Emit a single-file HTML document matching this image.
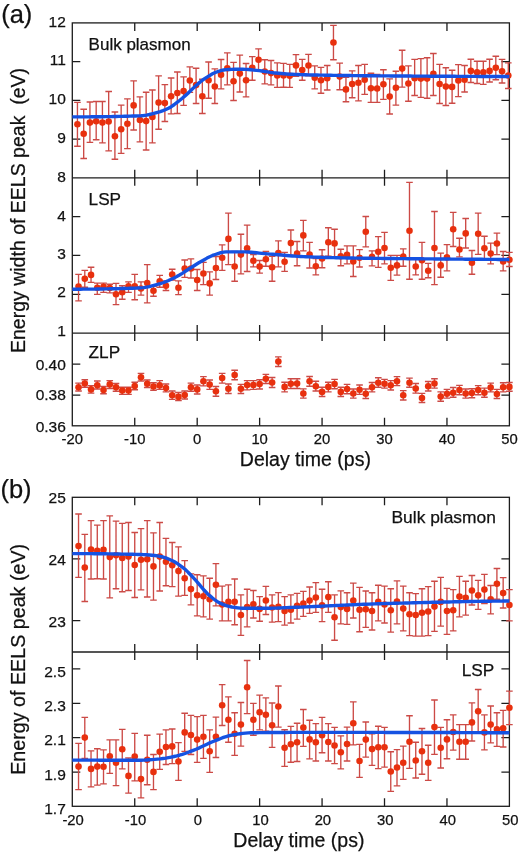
<!DOCTYPE html>
<html><head><meta charset="utf-8"><title>Figure</title>
<style>
html,body{margin:0;padding:0;background:#fff;}
body{width:520px;height:854px;overflow:hidden;}
svg{display:block;}
text{font-family:'Liberation Sans', Arial, Helvetica, sans-serif;fill:#111;stroke:#111;stroke-width:0.25px;}
</style></head><body>
<svg width="520" height="854" viewBox="0 0 520 854">
<rect width="520" height="854" fill="#fff"/>
<rect x="72.3" y="22.9" width="437.10" height="402.90" fill="none" stroke="#1c1c1c" stroke-width="1.3"/>
<line x1="72.3" y1="177.8" x2="509.4" y2="177.8" stroke="#1c1c1c" stroke-width="1.3"/>
<line x1="72.3" y1="333.1" x2="509.4" y2="333.1" stroke="#1c1c1c" stroke-width="1.3"/>
<path d="M134.74 22.9v8M134.74 425.8v-8M134.74 169.8v16M134.74 325.1v16M197.19 22.9v8M197.19 425.8v-8M197.19 169.8v16M197.19 325.1v16M259.63 22.9v8M259.63 425.8v-8M259.63 169.8v16M259.63 325.1v16M322.07 22.9v8M322.07 425.8v-8M322.07 169.8v16M322.07 325.1v16M384.51 22.9v8M384.51 425.8v-8M384.51 169.8v16M384.51 325.1v16M446.96 22.9v8M446.96 425.8v-8M446.96 169.8v16M446.96 325.1v16M72.3 61.6h8M509.4 61.6h-8M72.3 100.4h8M509.4 100.4h-8M72.3 139.1h8M509.4 139.1h-8M72.3 216.6h8M509.4 216.6h-8M72.3 255.4h8M509.4 255.4h-8M72.3 294.3h8M509.4 294.3h-8M72.3 364.2h8M509.4 364.2h-8M72.3 395.1h8M509.4 395.1h-8" stroke="#1c1c1c" stroke-width="1.3" fill="none"/>
<rect x="72.3" y="497.3" width="437.10" height="309.00" fill="none" stroke="#1c1c1c" stroke-width="1.3"/>
<line x1="72.3" y1="652.0" x2="509.4" y2="652.0" stroke="#1c1c1c" stroke-width="1.3"/>
<path d="M134.74 497.3v8M134.74 806.3v-8M134.74 644.0v16M197.19 497.3v8M197.19 806.3v-8M197.19 644.0v16M259.63 497.3v8M259.63 806.3v-8M259.63 644.0v16M322.07 497.3v8M322.07 806.3v-8M322.07 644.0v16M384.51 497.3v8M384.51 806.3v-8M384.51 644.0v16M446.96 497.3v8M446.96 806.3v-8M446.96 644.0v16M72.3 558.9h8M509.4 558.9h-8M72.3 620.7h8M509.4 620.7h-8M72.3 668.9h8M509.4 668.9h-8M72.3 703.4h8M509.4 703.4h-8M72.3 737.7h8M509.4 737.7h-8M72.3 772.2h8M509.4 772.2h-8" stroke="#1c1c1c" stroke-width="1.3" fill="none"/>
<text x="65.8" y="27.05" text-anchor="end" font-size="15.5">12</text>
<text x="65.8" y="64.95" text-anchor="end" font-size="15.5">11</text>
<text x="65.8" y="104.15" text-anchor="end" font-size="15.5">10</text>
<text x="65.8" y="142.95" text-anchor="end" font-size="15.5">9</text>
<text x="65.8" y="181.70" text-anchor="end" font-size="15.5">8</text>
<text x="65.8" y="221.15" text-anchor="end" font-size="15.5">4</text>
<text x="65.8" y="258.55" text-anchor="end" font-size="15.5">3</text>
<text x="65.8" y="297.25" text-anchor="end" font-size="15.5">2</text>
<text x="65.8" y="335.85" text-anchor="end" font-size="15.5">1</text>
<text x="65.8" y="369.75" text-anchor="end" font-size="15.5">0.40</text>
<text x="65.8" y="399.55" text-anchor="end" font-size="15.5">0.38</text>
<text x="65.8" y="432.35" text-anchor="end" font-size="15.5">0.36</text>
<text x="65.8" y="502.55" text-anchor="end" font-size="15.5">25</text>
<text x="65.8" y="564.85" text-anchor="end" font-size="15.5">24</text>
<text x="65.8" y="626.75" text-anchor="end" font-size="15.5">23</text>
<text x="65.8" y="676.75" text-anchor="end" font-size="15.5">2.5</text>
<text x="65.8" y="710.55" text-anchor="end" font-size="15.5">2.3</text>
<text x="65.8" y="744.95" text-anchor="end" font-size="15.5">2.1</text>
<text x="65.8" y="779.95" text-anchor="end" font-size="15.5">1.9</text>
<text x="65.8" y="813.95" text-anchor="end" font-size="15.5">1.7</text>
<text x="72.30" y="443.90" text-anchor="middle" font-size="14.8">-20</text>
<text x="134.74" y="443.90" text-anchor="middle" font-size="14.8">-10</text>
<text x="197.19" y="443.90" text-anchor="middle" font-size="14.8">0</text>
<text x="259.63" y="443.90" text-anchor="middle" font-size="14.8">10</text>
<text x="322.07" y="443.90" text-anchor="middle" font-size="14.8">20</text>
<text x="384.51" y="443.90" text-anchor="middle" font-size="14.8">30</text>
<text x="446.96" y="443.90" text-anchor="middle" font-size="14.8">40</text>
<text x="509.40" y="443.90" text-anchor="middle" font-size="14.8">50</text>
<text x="73.10" y="824.50" text-anchor="middle" font-size="14.8">-20</text>
<text x="135.54" y="824.50" text-anchor="middle" font-size="14.8">-10</text>
<text x="197.99" y="824.50" text-anchor="middle" font-size="14.8">0</text>
<text x="260.43" y="824.50" text-anchor="middle" font-size="14.8">10</text>
<text x="322.87" y="824.50" text-anchor="middle" font-size="14.8">20</text>
<text x="385.31" y="824.50" text-anchor="middle" font-size="14.8">30</text>
<text x="447.76" y="824.50" text-anchor="middle" font-size="14.8">40</text>
<text x="510.20" y="824.50" text-anchor="middle" font-size="14.8">50</text>
<text x="239.8" y="465.6" font-size="19.5">Delay time (ps)</text>
<text x="233.3" y="846.6" font-size="19.5">Delay time (ps)</text>
<text transform="translate(24.8 353) rotate(-90)" font-size="19.5" xml:space="preserve">Energy width of EELS peak  (eV)</text>
<text transform="translate(24.8 774.8) rotate(-90)" font-size="19.7">Energy of EELS peak (eV)</text>
<text x="1.2" y="22.5" font-size="25.5">(a)</text>
<text x="0.4" y="497.5" font-size="25.5">(b)</text>
<text x="88.6" y="49.5" font-size="17">Bulk plasmon</text>
<text x="88.6" y="205" font-size="17.2">LSP</text>
<text x="88.6" y="357.9" font-size="17.2">ZLP</text>
<text x="391.5" y="523" font-size="17.4">Bulk plasmon</text>
<text x="461.8" y="676.2" font-size="17.2">LSP</text>
<path d="M77.44 102.3V146.2M74.14 102.3h6.6M74.14 146.2h6.6M83.69 109.2V158.5M80.39 109.2h6.6M80.39 158.5h6.6M89.93 102.0V142.3M86.63 102.0h6.6M86.63 142.3h6.6M96.18 101.5V139.7M92.88 101.5h6.6M92.88 139.7h6.6M102.42 101.5V142.8M99.12 101.5h6.6M99.12 142.8h6.6M108.67 91.5V150.8M105.37 91.5h6.6M105.37 150.8h6.6M114.91 112.0V159.2M111.61 112.0h6.6M111.61 159.2h6.6M121.15 105.1V153.4M117.85 105.1h6.6M117.85 153.4h6.6M127.40 98.8V148.6M124.10 98.8h6.6M124.10 148.6h6.6M133.64 80.8V130.0M130.34 80.8h6.6M130.34 130.0h6.6M139.89 96.9V141.8M136.59 96.9h6.6M136.59 141.8h6.6M146.13 92.2V150.0M142.83 92.2h6.6M142.83 150.0h6.6M152.38 90.0V142.8M149.08 90.0h6.6M149.08 142.8h6.6M158.62 75.8V129.2M155.32 75.8h6.6M155.32 129.2h6.6M164.86 84.6V121.5M161.56 84.6h6.6M161.56 121.5h6.6M171.11 78.0V113.8M167.81 78.0h6.6M167.81 113.8h6.6M177.35 72.0V113.5M174.05 72.0h6.6M174.05 113.5h6.6M183.60 76.9V105.4M180.30 76.9h6.6M180.30 105.4h6.6M189.84 66.9V92.3M186.54 66.9h6.6M186.54 92.3h6.6M196.09 68.2V103.5M192.79 68.2h6.6M192.79 103.5h6.6M202.33 79.2V113.5M199.03 79.2h6.6M199.03 113.5h6.6M208.57 62.0V98.2M205.27 62.0h6.6M205.27 98.2h6.6M214.82 68.9V103.5M211.52 68.9h6.6M211.52 103.5h6.6M221.06 59.5V88.9M217.76 59.5h6.6M217.76 88.9h6.6M227.31 52.8V84.8M224.01 52.8h6.6M224.01 84.8h6.6M233.55 62.3V100.5M230.25 62.3h6.6M230.25 100.5h6.6M239.80 55.1V92.0M236.50 55.1h6.6M236.50 92.0h6.6M246.04 63.5V96.9M242.74 63.5h6.6M242.74 96.9h6.6M252.28 56.6V80.2M248.98 56.6h6.6M248.98 80.2h6.6M258.53 48.9V70.9M255.23 48.9h6.6M255.23 70.9h6.6M264.77 59.7V83.8M261.47 59.7h6.6M261.47 83.8h6.6M271.02 60.5V84.8M267.72 60.5h6.6M267.72 84.8h6.6M277.26 62.8V87.4M273.96 62.8h6.6M273.96 87.4h6.6M283.51 63.3V87.2M280.21 63.3h6.6M280.21 87.2h6.6M289.75 64.3V87.4M286.45 64.3h6.6M286.45 87.4h6.6M295.99 54.6V76.2M292.69 54.6h6.6M292.69 76.2h6.6M302.24 59.4V80.2M298.94 59.4h6.6M298.94 80.2h6.6M308.48 54.3V75.8M305.18 54.3h6.6M305.18 75.8h6.6M314.73 65.8V88.9M311.43 65.8h6.6M311.43 88.9h6.6M320.97 67.4V93.2M317.67 67.4h6.6M317.67 93.2h6.6M327.22 65.5V90.0M323.92 65.5h6.6M323.92 90.0h6.6M333.46 25.4V59.7M330.16 25.4h6.6M330.16 59.7h6.6M339.70 63.1V89.7M336.40 63.1h6.6M336.40 89.7h6.6M345.95 77.4V101.7M342.65 77.4h6.6M342.65 101.7h6.6M352.19 70.9V97.7M348.89 70.9h6.6M348.89 97.7h6.6M358.44 65.5V100.8M355.14 65.5h6.6M355.14 100.8h6.6M364.68 64.3V94.3M361.38 64.3h6.6M361.38 94.3h6.6M370.93 73.2V102.3M367.63 73.2h6.6M367.63 102.3h6.6M377.17 74.3V102.3M373.87 74.3h6.6M373.87 102.3h6.6M383.41 69.7V99.4M380.11 69.7h6.6M380.11 99.4h6.6M389.66 78.9V114.0M386.36 78.9h6.6M386.36 114.0h6.6M395.90 71.2V105.1M392.60 71.2h6.6M392.60 105.1h6.6M402.15 50.2V87.1M398.85 50.2h6.6M398.85 87.1h6.6M408.39 65.8V101.2M405.09 65.8h6.6M405.09 101.2h6.6M414.64 59.4V95.5M411.34 59.4h6.6M411.34 95.5h6.6M420.88 58.6V97.4M417.58 58.6h6.6M417.58 97.4h6.6M427.12 57.7V98.2M423.82 57.7h6.6M423.82 98.2h6.6M433.37 53.5V95.5M430.07 53.5h6.6M430.07 95.5h6.6M439.61 64.3V103.5M436.31 64.3h6.6M436.31 103.5h6.6M445.86 67.7V105.5M442.56 67.7h6.6M442.56 105.5h6.6M452.10 70.2V103.2M448.80 70.2h6.6M448.80 103.2h6.6M458.35 64.6V96.6M455.05 64.6h6.6M455.05 96.6h6.6M464.59 65.5V92.0M461.29 65.5h6.6M461.29 92.0h6.6M470.83 59.2V82.5M467.53 59.2h6.6M467.53 82.5h6.6M477.08 61.2V83.5M473.78 61.2h6.6M473.78 83.5h6.6M483.32 61.2V84.3M480.02 61.2h6.6M480.02 84.3h6.6M489.57 59.2V82.0M486.27 59.2h6.6M486.27 82.0h6.6M495.81 56.2V79.7M492.51 56.2h6.6M492.51 79.7h6.6M502.06 59.3V83.0M498.76 59.3h6.6M498.76 83.0h6.6M508.30 62.8V88.5M505.00 62.8h6.6M505.00 88.5h6.6" stroke="#cc4a46" stroke-width="1.35" fill="none"/>
<g fill="#e8300e"><circle cx="77.44" cy="124.3" r="3.3"/><circle cx="83.69" cy="133.8" r="3.3"/><circle cx="89.93" cy="122.6" r="3.3"/><circle cx="96.18" cy="121.2" r="3.3"/><circle cx="102.42" cy="122.6" r="3.3"/><circle cx="108.67" cy="121.5" r="3.3"/><circle cx="114.91" cy="136.2" r="3.3"/><circle cx="121.15" cy="129.2" r="3.3"/><circle cx="127.40" cy="123.8" r="3.3"/><circle cx="133.64" cy="105.4" r="3.3"/><circle cx="139.89" cy="120.0" r="3.3"/><circle cx="146.13" cy="121.1" r="3.3"/><circle cx="152.38" cy="116.9" r="3.3"/><circle cx="158.62" cy="102.6" r="3.3"/><circle cx="164.86" cy="103.1" r="3.3"/><circle cx="171.11" cy="96.2" r="3.3"/><circle cx="177.35" cy="93.1" r="3.3"/><circle cx="183.60" cy="91.1" r="3.3"/><circle cx="189.84" cy="80.5" r="3.3"/><circle cx="196.09" cy="85.1" r="3.3"/><circle cx="202.33" cy="96.2" r="3.3"/><circle cx="208.57" cy="80.3" r="3.3"/><circle cx="214.82" cy="86.5" r="3.3"/><circle cx="221.06" cy="74.8" r="3.3"/><circle cx="227.31" cy="68.2" r="3.3"/><circle cx="233.55" cy="81.3" r="3.3"/><circle cx="239.80" cy="73.6" r="3.3"/><circle cx="246.04" cy="80.2" r="3.3"/><circle cx="252.28" cy="67.8" r="3.3"/><circle cx="258.53" cy="59.7" r="3.3"/><circle cx="264.77" cy="71.5" r="3.3"/><circle cx="271.02" cy="73.1" r="3.3"/><circle cx="277.26" cy="75.5" r="3.3"/><circle cx="283.51" cy="75.5" r="3.3"/><circle cx="289.75" cy="75.8" r="3.3"/><circle cx="295.99" cy="65.4" r="3.3"/><circle cx="302.24" cy="70.0" r="3.3"/><circle cx="308.48" cy="65.5" r="3.3"/><circle cx="314.73" cy="77.7" r="3.3"/><circle cx="320.97" cy="80.2" r="3.3"/><circle cx="327.22" cy="78.2" r="3.3"/><circle cx="333.46" cy="42.5" r="3.3"/><circle cx="339.70" cy="76.6" r="3.3"/><circle cx="345.95" cy="89.4" r="3.3"/><circle cx="352.19" cy="84.0" r="3.3"/><circle cx="358.44" cy="82.8" r="3.3"/><circle cx="364.68" cy="79.7" r="3.3"/><circle cx="370.93" cy="88.2" r="3.3"/><circle cx="377.17" cy="88.5" r="3.3"/><circle cx="383.41" cy="84.3" r="3.3"/><circle cx="389.66" cy="96.6" r="3.3"/><circle cx="395.90" cy="87.8" r="3.3"/><circle cx="402.15" cy="68.6" r="3.3"/><circle cx="408.39" cy="83.5" r="3.3"/><circle cx="414.64" cy="78.2" r="3.3"/><circle cx="420.88" cy="78.6" r="3.3"/><circle cx="427.12" cy="78.6" r="3.3"/><circle cx="433.37" cy="73.8" r="3.3"/><circle cx="439.61" cy="84.0" r="3.3"/><circle cx="445.86" cy="86.6" r="3.3"/><circle cx="452.10" cy="86.9" r="3.3"/><circle cx="458.35" cy="80.5" r="3.3"/><circle cx="464.59" cy="79.7" r="3.3"/><circle cx="470.83" cy="70.9" r="3.3"/><circle cx="477.08" cy="72.3" r="3.3"/><circle cx="483.32" cy="72.3" r="3.3"/><circle cx="489.57" cy="70.9" r="3.3"/><circle cx="495.81" cy="67.8" r="3.3"/><circle cx="502.06" cy="71.2" r="3.3"/><circle cx="508.30" cy="75.5" r="3.3"/></g>
<path d="M72.30 116.90 L75.05 116.90 L77.80 116.89 L80.55 116.89 L83.30 116.88 L86.05 116.86 L88.79 116.85 L91.54 116.82 L94.29 116.80 L97.04 116.77 L99.79 116.74 L102.54 116.71 L105.29 116.67 L108.04 116.62 L110.79 116.58 L113.54 116.53 L116.28 116.47 L119.03 116.41 L121.78 116.35 L124.53 116.28 L127.28 116.20 L130.03 116.12 L132.78 116.04 L135.53 115.95 L138.28 115.86 L141.03 115.75 L143.78 115.49 L146.52 115.06 L149.27 114.51 L152.02 113.85 L154.77 113.13 L157.52 112.37 L160.27 111.59 L163.02 110.65 L165.77 109.53 L168.52 108.24 L171.27 106.67 L174.02 104.75 L176.76 102.65 L179.51 100.51 L182.26 98.24 L185.01 95.86 L187.76 93.41 L190.51 90.83 L193.26 88.11 L196.01 85.48 L198.76 83.13 L201.51 80.94 L204.25 78.91 L207.00 77.08 L209.75 75.41 L212.50 73.84 L215.25 72.52 L218.00 71.54 L220.75 70.68 L223.50 70.00 L226.25 69.62 L229.00 69.47 L231.75 69.36 L234.49 69.27 L237.24 69.22 L239.99 69.20 L242.74 69.25 L245.49 69.38 L248.24 69.57 L250.99 69.81 L253.74 70.07 L256.49 70.35 L259.24 70.63 L261.98 71.01 L264.73 71.46 L267.48 71.93 L270.23 72.37 L272.98 72.74 L275.73 73.03 L278.48 73.31 L281.23 73.56 L283.98 73.80 L286.73 74.00 L289.48 74.18 L292.22 74.31 L294.97 74.42 L297.72 74.52 L300.47 74.62 L303.22 74.71 L305.97 74.79 L308.72 74.87 L311.47 74.94 L314.22 75.01 L316.97 75.07 L319.72 75.12 L322.46 75.17 L325.21 75.22 L327.96 75.27 L330.71 75.31 L333.46 75.35 L336.21 75.39 L338.96 75.43 L341.71 75.46 L344.46 75.50 L347.21 75.53 L349.95 75.57 L352.70 75.60 L355.45 75.63 L358.20 75.66 L360.95 75.69 L363.70 75.71 L366.45 75.74 L369.20 75.77 L371.95 75.79 L374.70 75.81 L377.45 75.84 L380.19 75.86 L382.94 75.88 L385.69 75.90 L388.44 75.92 L391.19 75.94 L393.94 75.96 L396.69 75.98 L399.44 76.00 L402.19 76.01 L404.94 76.03 L407.68 76.05 L410.43 76.07 L413.18 76.08 L415.93 76.10 L418.68 76.12 L421.43 76.14 L424.18 76.15 L426.93 76.17 L429.68 76.18 L432.43 76.20 L435.18 76.22 L437.92 76.23 L440.67 76.25 L443.42 76.26 L446.17 76.28 L448.92 76.29 L451.67 76.31 L454.42 76.32 L457.17 76.33 L459.92 76.35 L462.67 76.36 L465.42 76.37 L468.16 76.38 L470.91 76.39 L473.66 76.40 L476.41 76.42 L479.16 76.43 L481.91 76.43 L484.66 76.44 L487.41 76.45 L490.16 76.46 L492.91 76.47 L495.65 76.47 L498.40 76.48 L501.15 76.49 L503.90 76.49 L506.65 76.50 L509.40 76.50" stroke="#1552e2" stroke-width="3.4" fill="none" stroke-linejoin="round"/>
<path d="M78.54 274.3V300.8M75.24 274.3h6.6M75.24 300.8h6.6M84.79 270.3V287.2M81.49 270.3h6.6M81.49 287.2h6.6M91.03 267.2V282.3M87.73 267.2h6.6M87.73 282.3h6.6M97.28 283.1V294.3M93.98 283.1h6.6M93.98 294.3h6.6M103.52 283.1V292.3M100.22 283.1h6.6M100.22 292.3h6.6M109.77 284.2V292.8M106.47 284.2h6.6M106.47 292.8h6.6M116.01 283.4V304.6M112.71 283.4h6.6M112.71 304.6h6.6M122.25 285.7V299.2M118.95 285.7h6.6M118.95 299.2h6.6M128.50 281.8V292.3M125.20 281.8h6.6M125.20 292.3h6.6M134.74 274.3V299.7M131.44 274.3h6.6M131.44 299.7h6.6M140.99 281.8V295.1M137.69 281.8h6.6M137.69 295.1h6.6M147.23 264.6V302.8M143.93 264.6h6.6M143.93 302.8h6.6M153.48 286.2V296.2M150.18 286.2h6.6M150.18 296.2h6.6M159.72 275.4V287.2M156.42 275.4h6.6M156.42 287.2h6.6M165.96 280.8V290.5M162.66 280.8h6.6M162.66 290.5h6.6M172.21 269.2V280.0M168.91 269.2h6.6M168.91 280.0h6.6M178.45 280.8V294.6M175.15 280.8h6.6M175.15 294.6h6.6M184.70 260.0V277.4M181.40 260.0h6.6M181.40 277.4h6.6M190.94 258.8V278.0M187.64 258.8h6.6M187.64 278.0h6.6M197.19 269.5V290.5M193.89 269.5h6.6M193.89 290.5h6.6M203.43 262.3V284.6M200.13 262.3h6.6M200.13 284.6h6.6M209.67 271.8V295.1M206.37 271.8h6.6M206.37 295.1h6.6M215.92 256.5V279.5M212.62 256.5h6.6M212.62 279.5h6.6M222.16 244.8V270.3M218.86 244.8h6.6M218.86 270.3h6.6M228.41 213.1V264.6M225.11 213.1h6.6M225.11 264.6h6.6M234.65 251.5V281.2M231.35 251.5h6.6M231.35 281.2h6.6M240.90 234.2V273.8M237.60 234.2h6.6M237.60 273.8h6.6M247.14 225.1V271.5M243.84 225.1h6.6M243.84 271.5h6.6M253.38 254.6V266.9M250.08 254.6h6.6M250.08 266.9h6.6M259.63 260.5V273.1M256.33 260.5h6.6M256.33 273.1h6.6M265.87 251.5V266.2M262.57 251.5h6.6M262.57 266.2h6.6M272.12 256.2V281.2M268.82 256.2h6.6M268.82 281.2h6.6M278.36 240.8V266.9M275.06 240.8h6.6M275.06 266.9h6.6M284.61 252.4V271.4M281.31 252.4h6.6M281.31 271.4h6.6M290.85 230.0V255.1M287.55 230.0h6.6M287.55 255.1h6.6M297.09 241.5V265.7M293.79 241.5h6.6M293.79 265.7h6.6M303.34 220.3V250.8M300.04 220.3h6.6M300.04 250.8h6.6M309.58 242.3V268.0M306.28 242.3h6.6M306.28 268.0h6.6M315.83 258.5V274.9M312.53 258.5h6.6M312.53 274.9h6.6M322.07 249.7V267.7M318.77 249.7h6.6M318.77 267.7h6.6M328.32 227.7V256.2M325.02 227.7h6.6M325.02 256.2h6.6M334.56 229.2V256.9M331.26 229.2h6.6M331.26 256.9h6.6M340.80 249.2V265.7M337.50 249.2h6.6M337.50 265.7h6.6M347.05 245.8V263.8M343.75 245.8h6.6M343.75 263.8h6.6M353.29 245.8V276.5M349.99 245.8h6.6M349.99 276.5h6.6M359.54 249.6V267.0M356.24 249.6h6.6M356.24 267.0h6.6M365.78 216.5V246.9M362.48 216.5h6.6M362.48 246.9h6.6M372.03 250.8V265.8M368.73 250.8h6.6M368.73 265.8h6.6M378.27 236.6V267.4M374.97 236.6h6.6M374.97 267.4h6.6M384.51 232.3V263.8M381.21 232.3h6.6M381.21 263.8h6.6M390.76 255.4V280.3M387.46 255.4h6.6M387.46 280.3h6.6M397.00 255.4V275.1M393.70 255.4h6.6M393.70 275.1h6.6M403.25 248.8V266.2M399.95 248.8h6.6M399.95 266.2h6.6M409.49 182.3V279.2M406.19 182.3h6.6M406.19 279.2h6.6M415.74 258.2V274.9M412.44 258.2h6.6M412.44 274.9h6.6M421.98 242.3V279.2M418.68 242.3h6.6M418.68 279.2h6.6M428.22 263.4V277.7M424.92 263.4h6.6M424.92 277.7h6.6M434.47 211.5V284.6M431.17 211.5h6.6M431.17 284.6h6.6M440.71 253.1V277.2M437.41 253.1h6.6M437.41 277.2h6.6M446.96 244.6V270.8M443.66 244.6h6.6M443.66 270.8h6.6M453.20 212.3V246.5M449.90 212.3h6.6M449.90 246.5h6.6M459.45 238.2V256.9M456.15 238.2h6.6M456.15 256.9h6.6M465.69 218.5V248.0M462.39 218.5h6.6M462.39 248.0h6.6M471.93 250.5V274.2M468.63 250.5h6.6M468.63 274.2h6.6M478.18 213.1V254.3M474.88 213.1h6.6M474.88 254.3h6.6M484.42 236.2V259.2M481.12 236.2h6.6M481.12 259.2h6.6M490.67 243.1V263.8M487.37 243.1h6.6M487.37 263.8h6.6M496.91 233.1V254.6M493.61 233.1h6.6M493.61 254.6h6.6M503.16 251.5V270.8M499.86 251.5h6.6M499.86 270.8h6.6M509.40 252.3V266.5M506.10 252.3h6.6M506.10 266.5h6.6" stroke="#cc4a46" stroke-width="1.35" fill="none"/>
<g fill="#e8300e"><circle cx="78.54" cy="286.6" r="3.3"/><circle cx="84.79" cy="278.8" r="3.3"/><circle cx="91.03" cy="274.9" r="3.3"/><circle cx="97.28" cy="287.7" r="3.3"/><circle cx="103.52" cy="286.9" r="3.3"/><circle cx="109.77" cy="288.0" r="3.3"/><circle cx="116.01" cy="294.3" r="3.3"/><circle cx="122.25" cy="292.3" r="3.3"/><circle cx="128.50" cy="286.2" r="3.3"/><circle cx="134.74" cy="286.2" r="3.3"/><circle cx="140.99" cy="288.5" r="3.3"/><circle cx="147.23" cy="283.1" r="3.3"/><circle cx="153.48" cy="290.8" r="3.3"/><circle cx="159.72" cy="281.2" r="3.3"/><circle cx="165.96" cy="285.7" r="3.3"/><circle cx="172.21" cy="274.6" r="3.3"/><circle cx="178.45" cy="287.7" r="3.3"/><circle cx="184.70" cy="268.5" r="3.3"/><circle cx="190.94" cy="268.5" r="3.3"/><circle cx="197.19" cy="280.0" r="3.3"/><circle cx="203.43" cy="273.5" r="3.3"/><circle cx="209.67" cy="283.4" r="3.3"/><circle cx="215.92" cy="268.0" r="3.3"/><circle cx="222.16" cy="257.7" r="3.3"/><circle cx="228.41" cy="238.9" r="3.3"/><circle cx="234.65" cy="266.5" r="3.3"/><circle cx="240.90" cy="254.6" r="3.3"/><circle cx="247.14" cy="248.2" r="3.3"/><circle cx="253.38" cy="260.8" r="3.3"/><circle cx="259.63" cy="266.6" r="3.3"/><circle cx="265.87" cy="259.2" r="3.3"/><circle cx="272.12" cy="267.2" r="3.3"/><circle cx="278.36" cy="253.1" r="3.3"/><circle cx="284.61" cy="261.8" r="3.3"/><circle cx="290.85" cy="243.1" r="3.3"/><circle cx="297.09" cy="253.5" r="3.3"/><circle cx="303.34" cy="235.4" r="3.3"/><circle cx="309.58" cy="254.6" r="3.3"/><circle cx="315.83" cy="266.2" r="3.3"/><circle cx="322.07" cy="258.5" r="3.3"/><circle cx="328.32" cy="242.3" r="3.3"/><circle cx="334.56" cy="243.4" r="3.3"/><circle cx="340.80" cy="256.2" r="3.3"/><circle cx="347.05" cy="254.9" r="3.3"/><circle cx="353.29" cy="261.5" r="3.3"/><circle cx="359.54" cy="257.7" r="3.3"/><circle cx="365.78" cy="231.8" r="3.3"/><circle cx="372.03" cy="256.9" r="3.3"/><circle cx="378.27" cy="251.8" r="3.3"/><circle cx="384.51" cy="248.0" r="3.3"/><circle cx="390.76" cy="267.7" r="3.3"/><circle cx="397.00" cy="265.4" r="3.3"/><circle cx="403.25" cy="256.6" r="3.3"/><circle cx="409.49" cy="230.8" r="3.3"/><circle cx="415.74" cy="266.5" r="3.3"/><circle cx="421.98" cy="260.3" r="3.3"/><circle cx="428.22" cy="270.8" r="3.3"/><circle cx="434.47" cy="248.0" r="3.3"/><circle cx="440.71" cy="265.4" r="3.3"/><circle cx="446.96" cy="257.4" r="3.3"/><circle cx="453.20" cy="229.2" r="3.3"/><circle cx="459.45" cy="249.5" r="3.3"/><circle cx="465.69" cy="233.4" r="3.3"/><circle cx="471.93" cy="262.8" r="3.3"/><circle cx="478.18" cy="233.8" r="3.3"/><circle cx="484.42" cy="248.2" r="3.3"/><circle cx="490.67" cy="253.5" r="3.3"/><circle cx="496.91" cy="243.5" r="3.3"/><circle cx="503.16" cy="261.5" r="3.3"/><circle cx="509.40" cy="259.7" r="3.3"/></g>
<path d="M72.30 289.20 L75.05 289.20 L77.80 289.19 L80.55 289.18 L83.30 289.17 L86.05 289.15 L88.79 289.13 L91.54 289.11 L94.29 289.08 L97.04 289.05 L99.79 289.01 L102.54 288.97 L105.29 288.92 L108.04 288.87 L110.79 288.81 L113.54 288.75 L116.28 288.68 L119.03 288.61 L121.78 288.54 L124.53 288.46 L127.28 288.37 L130.03 288.28 L132.78 288.18 L135.53 288.08 L138.28 287.97 L141.03 287.84 L143.78 287.57 L146.52 287.13 L149.27 286.57 L152.02 285.92 L154.77 285.21 L157.52 284.47 L160.27 283.69 L163.02 282.76 L165.77 281.71 L168.52 280.54 L171.27 279.28 L174.02 277.95 L176.76 276.57 L179.51 275.05 L182.26 273.34 L185.01 271.53 L187.76 269.71 L190.51 267.98 L193.26 266.23 L196.01 264.48 L198.76 262.79 L201.51 261.20 L204.25 259.65 L207.00 258.11 L209.75 256.69 L212.50 255.47 L215.25 254.50 L218.00 253.56 L220.75 252.72 L223.50 252.12 L226.25 251.90 L229.00 251.90 L231.75 251.90 L234.49 251.90 L237.24 251.90 L239.99 251.90 L242.74 251.90 L245.49 251.91 L248.24 252.01 L250.99 252.22 L253.74 252.49 L256.49 252.80 L259.24 253.12 L261.98 253.40 L264.73 253.64 L267.48 253.86 L270.23 254.09 L272.98 254.31 L275.73 254.53 L278.48 254.76 L281.23 254.98 L283.98 255.21 L286.73 255.46 L289.48 255.71 L292.22 255.96 L294.97 256.18 L297.72 256.37 L300.47 256.52 L303.22 256.65 L305.97 256.77 L308.72 256.88 L311.47 256.99 L314.22 257.09 L316.97 257.19 L319.72 257.28 L322.46 257.36 L325.21 257.44 L327.96 257.52 L330.71 257.59 L333.46 257.66 L336.21 257.73 L338.96 257.79 L341.71 257.85 L344.46 257.90 L347.21 257.95 L349.95 258.00 L352.70 258.04 L355.45 258.09 L358.20 258.13 L360.95 258.17 L363.70 258.21 L366.45 258.25 L369.20 258.28 L371.95 258.32 L374.70 258.35 L377.45 258.38 L380.19 258.41 L382.94 258.44 L385.69 258.47 L388.44 258.50 L391.19 258.53 L393.94 258.56 L396.69 258.58 L399.44 258.61 L402.19 258.64 L404.94 258.66 L407.68 258.69 L410.43 258.71 L413.18 258.74 L415.93 258.76 L418.68 258.79 L421.43 258.81 L424.18 258.84 L426.93 258.86 L429.68 258.89 L432.43 258.91 L435.18 258.94 L437.92 258.96 L440.67 258.99 L443.42 259.01 L446.17 259.04 L448.92 259.06 L451.67 259.08 L454.42 259.11 L457.17 259.13 L459.92 259.15 L462.67 259.17 L465.42 259.20 L468.16 259.22 L470.91 259.24 L473.66 259.26 L476.41 259.28 L479.16 259.30 L481.91 259.32 L484.66 259.34 L487.41 259.36 L490.16 259.38 L492.91 259.40 L495.65 259.41 L498.40 259.43 L501.15 259.45 L503.90 259.47 L506.65 259.48 L509.40 259.50" stroke="#1552e2" stroke-width="3.4" fill="none" stroke-linejoin="round"/>
<path d="M78.54 383.1V391.0M75.24 383.1h6.6M75.24 391.0h6.6M84.79 379.75V387.25M81.49 379.75h6.6M81.49 387.25h6.6M91.03 385.6V393.1M87.73 385.6h6.6M87.73 393.1h6.6M97.28 381.0V389.0M93.98 381.0h6.6M93.98 389.0h6.6M103.52 386.5V393.75M100.22 386.5h6.6M100.22 393.75h6.6M109.77 380.6V388.5M106.47 380.6h6.6M106.47 388.5h6.6M116.01 383.5V391.25M112.71 383.5h6.6M112.71 391.25h6.6M122.25 387.25V394.4M118.95 387.25h6.6M118.95 394.4h6.6M128.50 387.25V394.4M125.20 387.25h6.6M125.20 394.4h6.6M134.74 382.25V389.75M131.44 382.25h6.6M131.44 389.75h6.6M140.99 373.4V381.0M137.69 373.4h6.6M137.69 381.0h6.6M147.23 380.0V387.5M143.93 380.0h6.6M143.93 387.5h6.6M153.48 382.75V390.25M150.18 382.75h6.6M150.18 390.25h6.6M159.72 380.6V389.4M156.42 380.6h6.6M156.42 389.4h6.6M165.96 384.0V391.9M162.66 384.0h6.6M162.66 391.9h6.6M172.21 391.0V399.4M168.91 391.0h6.6M168.91 399.4h6.6M178.45 392.5V400.6M175.15 392.5h6.6M175.15 400.6h6.6M184.70 391.0V399.0M181.40 391.0h6.6M181.40 399.0h6.6M190.94 383.1V391.25M187.64 383.1h6.6M187.64 391.25h6.6M197.19 385.0V394.0M193.89 385.0h6.6M193.89 394.0h6.6M203.43 376.6V385.9M200.13 376.6h6.6M200.13 385.9h6.6M209.67 380.0V389.4M206.37 380.0h6.6M206.37 389.4h6.6M215.92 386.5V396.25M212.62 386.5h6.6M212.62 396.25h6.6M222.16 373.4V383.1M218.86 373.4h6.6M218.86 383.1h6.6M228.41 384.0V393.5M225.11 384.0h6.6M225.11 393.5h6.6M234.65 370.25V379.75M231.35 370.25h6.6M231.35 379.75h6.6M240.90 384.4V393.5M237.60 384.4h6.6M237.60 393.5h6.6M247.14 380.6V389.8M243.84 380.6h6.6M243.84 389.8h6.6M253.38 380.6V389.4M250.08 380.6h6.6M250.08 389.4h6.6M259.63 379.75V389.0M256.33 379.75h6.6M256.33 389.0h6.6M265.87 374.4V383.5M262.57 374.4h6.6M262.57 383.5h6.6M272.12 377.5V387.5M268.82 377.5h6.6M268.82 387.5h6.6M278.36 356.9V366.5M275.06 356.9h6.6M275.06 366.5h6.6M284.61 382.25V391.9M281.31 382.25h6.6M281.31 391.9h6.6M290.85 378.75V388.5M287.55 378.75h6.6M287.55 388.5h6.6M297.09 378.75V388.5M293.79 378.75h6.6M293.79 388.5h6.6M303.34 388.9V398.1M300.04 388.9h6.6M300.04 398.1h6.6M309.58 376.5V386.25M306.28 376.5h6.6M306.28 386.25h6.6M315.83 381.25V391.0M312.53 381.25h6.6M312.53 391.0h6.6M322.07 387.25V396.5M318.77 387.25h6.6M318.77 396.5h6.6M328.32 382.25V391.9M325.02 382.25h6.6M325.02 391.9h6.6M334.56 379.4V388.75M331.26 379.4h6.6M331.26 388.75h6.6M340.80 387.25V396.5M337.50 387.25h6.6M337.50 396.5h6.6M347.05 384.4V393.75M343.75 384.4h6.6M343.75 393.75h6.6M353.29 389.0V398.1M349.99 389.0h6.6M349.99 398.1h6.6M359.54 385.0V394.4M356.24 385.0h6.6M356.24 394.4h6.6M365.78 389.0V398.5M362.48 389.0h6.6M362.48 398.5h6.6M372.03 382.5V391.9M368.73 382.5h6.6M368.73 391.9h6.6M378.27 377.75V387.25M374.97 377.75h6.6M374.97 387.25h6.6M384.51 379.4V388.1M381.21 379.4h6.6M381.21 388.1h6.6M390.76 380.6V390.0M387.46 380.6h6.6M387.46 390.0h6.6M397.00 376.6V385.6M393.70 376.6h6.6M393.70 385.6h6.6M403.25 390.6V400.0M399.95 390.6h6.6M399.95 400.0h6.6M409.49 378.1V387.25M406.19 378.1h6.6M406.19 387.25h6.6M415.74 383.5V393.1M412.44 383.5h6.6M412.44 393.1h6.6M421.98 393.4V402.5M418.68 393.4h6.6M418.68 402.5h6.6M428.22 381.5V391.0M424.92 381.5h6.6M424.92 391.0h6.6M434.47 378.75V388.1M431.17 378.75h6.6M431.17 388.1h6.6M440.71 391.9V401.25M437.41 391.9h6.6M437.41 401.25h6.6M446.96 389.4V398.1M443.66 389.4h6.6M443.66 398.1h6.6M453.20 387.5V397.25M449.90 387.5h6.6M449.90 397.25h6.6M459.45 385.4V394.75M456.15 385.4h6.6M456.15 394.75h6.6M465.69 389.0V398.1M462.39 389.0h6.6M462.39 398.1h6.6M471.93 388.75V397.75M468.63 388.75h6.6M468.63 397.75h6.6M478.18 385.6V394.75M474.88 385.6h6.6M474.88 394.75h6.6M484.42 388.1V397.25M481.12 388.1h6.6M481.12 397.25h6.6M490.67 383.1V391.9M487.37 383.1h6.6M487.37 391.9h6.6M496.91 389.4V398.5M493.61 389.4h6.6M493.61 398.5h6.6M503.16 382.75V391.9M499.86 382.75h6.6M499.86 391.9h6.6M509.40 382.5V391.25M506.10 382.5h6.6M506.10 391.25h6.6" stroke="#cc4a46" stroke-width="1.35" fill="none"/>
<g fill="#e8300e"><circle cx="78.54" cy="387.25" r="3.3"/><circle cx="84.79" cy="383.5" r="3.3"/><circle cx="91.03" cy="389.4" r="3.3"/><circle cx="97.28" cy="385.25" r="3.3"/><circle cx="103.52" cy="390.0" r="3.3"/><circle cx="109.77" cy="384.4" r="3.3"/><circle cx="116.01" cy="387.25" r="3.3"/><circle cx="122.25" cy="390.6" r="3.3"/><circle cx="128.50" cy="390.6" r="3.3"/><circle cx="134.74" cy="386.1" r="3.3"/><circle cx="140.99" cy="377.25" r="3.3"/><circle cx="147.23" cy="383.75" r="3.3"/><circle cx="153.48" cy="386.5" r="3.3"/><circle cx="159.72" cy="385.4" r="3.3"/><circle cx="165.96" cy="388.1" r="3.3"/><circle cx="172.21" cy="395.25" r="3.3"/><circle cx="178.45" cy="396.9" r="3.3"/><circle cx="184.70" cy="395.1" r="3.3"/><circle cx="190.94" cy="387.25" r="3.3"/><circle cx="197.19" cy="389.4" r="3.3"/><circle cx="203.43" cy="381.25" r="3.3"/><circle cx="209.67" cy="384.6" r="3.3"/><circle cx="215.92" cy="391.25" r="3.3"/><circle cx="222.16" cy="378.1" r="3.3"/><circle cx="228.41" cy="388.75" r="3.3"/><circle cx="234.65" cy="375.0" r="3.3"/><circle cx="240.90" cy="388.75" r="3.3"/><circle cx="247.14" cy="385.1" r="3.3"/><circle cx="253.38" cy="385.0" r="3.3"/><circle cx="259.63" cy="384.1" r="3.3"/><circle cx="265.87" cy="378.75" r="3.3"/><circle cx="272.12" cy="382.5" r="3.3"/><circle cx="278.36" cy="361.6" r="3.3"/><circle cx="284.61" cy="386.9" r="3.3"/><circle cx="290.85" cy="383.75" r="3.3"/><circle cx="297.09" cy="383.6" r="3.3"/><circle cx="303.34" cy="393.5" r="3.3"/><circle cx="309.58" cy="381.25" r="3.3"/><circle cx="315.83" cy="386.25" r="3.3"/><circle cx="322.07" cy="391.9" r="3.3"/><circle cx="328.32" cy="386.9" r="3.3"/><circle cx="334.56" cy="384.0" r="3.3"/><circle cx="340.80" cy="391.9" r="3.3"/><circle cx="347.05" cy="389.0" r="3.3"/><circle cx="353.29" cy="393.5" r="3.3"/><circle cx="359.54" cy="389.75" r="3.3"/><circle cx="365.78" cy="393.75" r="3.3"/><circle cx="372.03" cy="387.25" r="3.3"/><circle cx="378.27" cy="382.75" r="3.3"/><circle cx="384.51" cy="383.75" r="3.3"/><circle cx="390.76" cy="385.25" r="3.3"/><circle cx="397.00" cy="381.25" r="3.3"/><circle cx="403.25" cy="395.25" r="3.3"/><circle cx="409.49" cy="382.75" r="3.3"/><circle cx="415.74" cy="388.5" r="3.3"/><circle cx="421.98" cy="398.1" r="3.3"/><circle cx="428.22" cy="386.25" r="3.3"/><circle cx="434.47" cy="383.5" r="3.3"/><circle cx="440.71" cy="396.6" r="3.3"/><circle cx="446.96" cy="393.75" r="3.3"/><circle cx="453.20" cy="392.75" r="3.3"/><circle cx="459.45" cy="390.0" r="3.3"/><circle cx="465.69" cy="393.5" r="3.3"/><circle cx="471.93" cy="393.1" r="3.3"/><circle cx="478.18" cy="390.0" r="3.3"/><circle cx="484.42" cy="392.75" r="3.3"/><circle cx="490.67" cy="387.5" r="3.3"/><circle cx="496.91" cy="394.0" r="3.3"/><circle cx="503.16" cy="387.25" r="3.3"/><circle cx="509.40" cy="386.9" r="3.3"/></g>
<path d="M78.54 514.0V577.3M75.24 514.0h6.6M75.24 577.3h6.6M84.79 534.3V601.5M81.49 534.3h6.6M81.49 601.5h6.6M91.03 520.6V579.0M87.73 520.6h6.6M87.73 579.0h6.6M97.28 525.1V578.7M93.98 525.1h6.6M93.98 578.7h6.6M103.52 520.6V579.0M100.22 520.6h6.6M100.22 579.0h6.6M109.77 515.8V597.8M106.47 515.8h6.6M106.47 597.8h6.6M116.01 521.1V588.7M112.71 521.1h6.6M112.71 588.7h6.6M122.25 523.4V591.7M118.95 523.4h6.6M118.95 591.7h6.6M128.50 522.5V590.5M125.20 522.5h6.6M125.20 590.5h6.6M134.74 532.5V597.5M131.44 532.5h6.6M131.44 597.5h6.6M140.99 528.6V589.9M137.69 528.6h6.6M137.69 589.9h6.6M147.23 520.6V597.0M143.93 520.6h6.6M143.93 597.0h6.6M153.48 532.8V600.1M150.18 532.8h6.6M150.18 600.1h6.6M159.72 522.5V591.0M156.42 522.5h6.6M156.42 591.0h6.6M165.96 538.3V585.7M162.66 538.3h6.6M162.66 585.7h6.6M172.21 542.5V586.6M168.91 542.5h6.6M168.91 586.6h6.6M178.45 546.9V596.1M175.15 546.9h6.6M175.15 596.1h6.6M184.70 560.6V595.4M181.40 560.6h6.6M181.40 595.4h6.6M190.94 573.8V604.9M187.64 573.8h6.6M187.64 604.9h6.6M197.19 574.7V615.9M193.89 574.7h6.6M193.89 615.9h6.6M203.43 575.9V616.8M200.13 575.9h6.6M200.13 616.8h6.6M209.67 578.2V619.1M206.37 578.2h6.6M206.37 619.1h6.6M215.92 563.6V605.9M212.62 563.6h6.6M212.62 605.9h6.6M222.16 586.1V620.9M218.86 586.1h6.6M218.86 620.9h6.6M228.41 584.8V620.9M225.11 584.8h6.6M225.11 620.9h6.6M234.65 579.0V624.7M231.35 579.0h6.6M231.35 624.7h6.6M240.90 594.9V635.3M237.60 594.9h6.6M237.60 635.3h6.6M247.14 589.2V626.8M243.84 589.2h6.6M243.84 626.8h6.6M253.38 590.5V618.0M250.08 590.5h6.6M250.08 618.0h6.6M259.63 596.6V621.2M256.33 596.6h6.6M256.33 621.2h6.6M265.87 586.4V614.5M262.57 586.4h6.6M262.57 614.5h6.6M272.12 594.9V622.1M268.82 594.9h6.6M268.82 622.1h6.6M278.36 592.6V621.6M275.06 592.6h6.6M275.06 621.6h6.6M284.61 596.6V625.1M281.31 596.6h6.6M281.31 625.1h6.6M290.85 594.9V623.0M287.55 594.9h6.6M287.55 623.0h6.6M297.09 593.4V619.1M293.79 593.4h6.6M293.79 619.1h6.6M303.34 591.3V616.3M300.04 591.3h6.6M300.04 616.3h6.6M309.58 587.0V613.3M306.28 587.0h6.6M306.28 613.3h6.6M315.83 582.6V612.4M312.53 582.6h6.6M312.53 612.4h6.6M322.07 589.2V621.6M318.77 589.2h6.6M318.77 621.6h6.6M328.32 581.7V612.4M325.02 581.7h6.6M325.02 612.4h6.6M334.56 594.9V640.2M331.26 594.9h6.6M331.26 640.2h6.6M340.80 590.8V623.8M337.50 590.8h6.6M337.50 623.8h6.6M347.05 592.7V624.4M343.75 592.7h6.6M343.75 624.4h6.6M353.29 583.1V618.0M349.99 583.1h6.6M349.99 618.0h6.6M359.54 587.3V631.7M356.24 587.3h6.6M356.24 631.7h6.6M365.78 591.0V627.3M362.48 591.0h6.6M362.48 627.3h6.6M372.03 592.7V630.0M368.73 592.7h6.6M368.73 630.0h6.6M378.27 585.2V620.9M374.97 585.2h6.6M374.97 620.9h6.6M384.51 586.1V623.0M381.21 586.1h6.6M381.21 623.0h6.6M390.76 588.7V632.1M387.46 588.7h6.6M387.46 632.1h6.6M397.00 580.8V623.8M393.70 580.8h6.6M393.70 623.8h6.6M403.25 586.1V630.9M399.95 586.1h6.6M399.95 630.9h6.6M409.49 592.7V635.6M406.19 592.7h6.6M406.19 635.6h6.6M415.74 593.6V636.1M412.44 593.6h6.6M412.44 636.1h6.6M421.98 588.7V636.1M418.68 588.7h6.6M418.68 636.1h6.6M428.22 586.6V635.6M424.92 586.6h6.6M424.92 635.6h6.6M434.47 581.2V631.4M431.17 581.2h6.6M431.17 631.4h6.6M440.71 577.3V626.1M437.41 577.3h6.6M437.41 626.1h6.6M446.96 588.4V634.4M443.66 588.4h6.6M443.66 634.4h6.6M453.20 589.6V630.9M449.90 589.6h6.6M449.90 630.9h6.6M459.45 576.4V616.8M456.15 576.4h6.6M456.15 616.8h6.6M465.69 581.2V615.1M462.39 581.2h6.6M462.39 615.1h6.6M471.93 575.5V605.0M468.63 575.5h6.6M468.63 605.0h6.6M478.18 580.4V609.3M474.88 580.4h6.6M474.88 609.3h6.6M484.42 574.3V603.6M481.12 574.3h6.6M481.12 603.6h6.6M490.67 585.5V613.8M487.37 585.5h6.6M487.37 613.8h6.6M496.91 568.5V599.2M493.61 568.5h6.6M493.61 599.2h6.6M503.16 577.6V608.0M499.86 577.6h6.6M499.86 608.0h6.6M509.40 589.6V620.9M506.10 589.6h6.6M506.10 620.9h6.6" stroke="#cc4a46" stroke-width="1.35" fill="none"/>
<g fill="#e8300e"><circle cx="78.54" cy="546.0" r="3.3"/><circle cx="84.79" cy="567.6" r="3.3"/><circle cx="91.03" cy="549.5" r="3.3"/><circle cx="97.28" cy="550.9" r="3.3"/><circle cx="103.52" cy="549.7" r="3.3"/><circle cx="109.77" cy="557.1" r="3.3"/><circle cx="116.01" cy="555.3" r="3.3"/><circle cx="122.25" cy="558.0" r="3.3"/><circle cx="128.50" cy="556.6" r="3.3"/><circle cx="134.74" cy="565.0" r="3.3"/><circle cx="140.99" cy="559.7" r="3.3"/><circle cx="147.23" cy="559.2" r="3.3"/><circle cx="153.48" cy="566.4" r="3.3"/><circle cx="159.72" cy="556.6" r="3.3"/><circle cx="165.96" cy="561.8" r="3.3"/><circle cx="172.21" cy="565.3" r="3.3"/><circle cx="178.45" cy="571.1" r="3.3"/><circle cx="184.70" cy="578.2" r="3.3"/><circle cx="190.94" cy="589.1" r="3.3"/><circle cx="197.19" cy="595.2" r="3.3"/><circle cx="203.43" cy="596.3" r="3.3"/><circle cx="209.67" cy="599.2" r="3.3"/><circle cx="215.92" cy="584.8" r="3.3"/><circle cx="222.16" cy="604.5" r="3.3"/><circle cx="228.41" cy="601.9" r="3.3"/><circle cx="234.65" cy="601.7" r="3.3"/><circle cx="240.90" cy="615.0" r="3.3"/><circle cx="247.14" cy="607.1" r="3.3"/><circle cx="253.38" cy="604.2" r="3.3"/><circle cx="259.63" cy="608.9" r="3.3"/><circle cx="265.87" cy="600.5" r="3.3"/><circle cx="272.12" cy="607.5" r="3.3"/><circle cx="278.36" cy="606.8" r="3.3"/><circle cx="284.61" cy="611.0" r="3.3"/><circle cx="290.85" cy="609.8" r="3.3"/><circle cx="297.09" cy="605.7" r="3.3"/><circle cx="303.34" cy="603.6" r="3.3"/><circle cx="309.58" cy="600.5" r="3.3"/><circle cx="315.83" cy="597.5" r="3.3"/><circle cx="322.07" cy="605.4" r="3.3"/><circle cx="328.32" cy="597.1" r="3.3"/><circle cx="334.56" cy="617.3" r="3.3"/><circle cx="340.80" cy="607.1" r="3.3"/><circle cx="347.05" cy="608.9" r="3.3"/><circle cx="353.29" cy="600.5" r="3.3"/><circle cx="359.54" cy="609.8" r="3.3"/><circle cx="365.78" cy="609.3" r="3.3"/><circle cx="372.03" cy="611.0" r="3.3"/><circle cx="378.27" cy="601.9" r="3.3"/><circle cx="384.51" cy="604.5" r="3.3"/><circle cx="390.76" cy="610.3" r="3.3"/><circle cx="397.00" cy="601.5" r="3.3"/><circle cx="403.25" cy="608.6" r="3.3"/><circle cx="409.49" cy="614.2" r="3.3"/><circle cx="415.74" cy="615.0" r="3.3"/><circle cx="421.98" cy="612.8" r="3.3"/><circle cx="428.22" cy="611.5" r="3.3"/><circle cx="434.47" cy="606.6" r="3.3"/><circle cx="440.71" cy="601.9" r="3.3"/><circle cx="446.96" cy="611.0" r="3.3"/><circle cx="453.20" cy="610.3" r="3.3"/><circle cx="459.45" cy="596.6" r="3.3"/><circle cx="465.69" cy="597.8" r="3.3"/><circle cx="471.93" cy="590.5" r="3.3"/><circle cx="478.18" cy="595.2" r="3.3"/><circle cx="484.42" cy="589.6" r="3.3"/><circle cx="490.67" cy="599.2" r="3.3"/><circle cx="496.91" cy="583.8" r="3.3"/><circle cx="503.16" cy="593.1" r="3.3"/><circle cx="509.40" cy="605.0" r="3.3"/></g>
<path d="M72.30 553.60 L75.05 553.60 L77.80 553.61 L80.55 553.61 L83.30 553.62 L86.05 553.64 L88.79 553.65 L91.54 553.67 L94.29 553.69 L97.04 553.72 L99.79 553.75 L102.54 553.78 L105.29 553.81 L108.04 553.85 L110.79 553.89 L113.54 553.93 L116.28 553.98 L119.03 554.03 L121.78 554.08 L124.53 554.14 L127.28 554.19 L130.03 554.25 L132.78 554.32 L135.53 554.39 L138.28 554.45 L141.03 554.53 L143.78 554.64 L146.52 554.80 L149.27 555.00 L152.02 555.25 L154.77 555.54 L157.52 555.87 L160.27 556.31 L163.02 557.02 L165.77 557.95 L168.52 559.04 L171.27 560.20 L174.02 561.58 L176.76 563.21 L179.51 565.05 L182.26 567.06 L185.01 569.28 L187.76 571.88 L190.51 574.74 L193.26 577.70 L196.01 580.65 L198.76 583.80 L201.51 587.08 L204.25 590.28 L207.00 593.15 L209.75 595.65 L212.50 598.04 L215.25 600.21 L218.00 602.05 L220.75 603.44 L223.50 604.59 L226.25 605.60 L229.00 606.42 L231.75 607.01 L234.49 607.42 L237.24 607.79 L239.99 608.08 L242.74 608.26 L245.49 608.30 L248.24 608.30 L250.99 608.30 L253.74 608.30 L256.49 608.30 L259.24 608.30 L261.98 608.30 L264.73 608.30 L267.48 608.27 L270.23 608.22 L272.98 608.16 L275.73 608.08 L278.48 607.98 L281.23 607.88 L283.98 607.77 L286.73 607.65 L289.48 607.53 L292.22 607.41 L294.97 607.30 L297.72 607.19 L300.47 607.08 L303.22 606.98 L305.97 606.88 L308.72 606.77 L311.47 606.65 L314.22 606.54 L316.97 606.42 L319.72 606.30 L322.46 606.17 L325.21 606.05 L327.96 605.92 L330.71 605.80 L333.46 605.67 L336.21 605.54 L338.96 605.41 L341.71 605.28 L344.46 605.16 L347.21 605.03 L349.95 604.90 L352.70 604.78 L355.45 604.66 L358.20 604.54 L360.95 604.42 L363.70 604.31 L366.45 604.20 L369.20 604.09 L371.95 603.99 L374.70 603.89 L377.45 603.80 L380.19 603.71 L382.94 603.63 L385.69 603.55 L388.44 603.47 L391.19 603.40 L393.94 603.32 L396.69 603.24 L399.44 603.17 L402.19 603.09 L404.94 603.02 L407.68 602.95 L410.43 602.87 L413.18 602.80 L415.93 602.73 L418.68 602.66 L421.43 602.59 L424.18 602.52 L426.93 602.45 L429.68 602.38 L432.43 602.31 L435.18 602.25 L437.92 602.18 L440.67 602.12 L443.42 602.06 L446.17 602.00 L448.92 601.94 L451.67 601.88 L454.42 601.82 L457.17 601.76 L459.92 601.71 L462.67 601.66 L465.42 601.60 L468.16 601.55 L470.91 601.50 L473.66 601.46 L476.41 601.41 L479.16 601.37 L481.91 601.32 L484.66 601.28 L487.41 601.25 L490.16 601.21 L492.91 601.17 L495.65 601.14 L498.40 601.11 L501.15 601.08 L503.90 601.05 L506.65 601.02 L509.40 601.00" stroke="#1552e2" stroke-width="3.4" fill="none" stroke-linejoin="round"/>
<path d="M78.54 743.4V789.6M75.24 743.4h6.6M75.24 789.6h6.6M84.79 717.4V758.4M81.49 717.4h6.6M81.49 758.4h6.6M91.03 750.8V786.8M87.73 750.8h6.6M87.73 786.8h6.6M97.28 748.7V785.1M93.98 748.7h6.6M93.98 785.1h6.6M103.52 749.9V783.8M100.22 749.9h6.6M100.22 783.8h6.6M109.77 739.9V773.3M106.47 739.9h6.6M106.47 773.3h6.6M116.01 739.9V785.6M112.71 739.9h6.6M112.71 785.6h6.6M122.25 729.4V768.9M118.95 729.4h6.6M118.95 768.9h6.6M128.50 758.0V793.1M125.20 758.0h6.6M125.20 793.1h6.6M134.74 733.4V780.8M131.44 733.4h6.6M131.44 780.8h6.6M140.99 760.1V797.9M137.69 760.1h6.6M137.69 797.9h6.6M147.23 735.2V784.7M143.93 735.2h6.6M143.93 784.7h6.6M153.48 754.5V789.6M150.18 754.5h6.6M150.18 789.6h6.6M159.72 734.1V769.3M156.42 734.1h6.6M156.42 769.3h6.6M165.96 729.9V764.5M162.66 729.9h6.6M162.66 764.5h6.6M172.21 729.0V763.6M168.91 729.0h6.6M168.91 763.6h6.6M178.45 742.6V780.3M175.15 742.6h6.6M175.15 780.3h6.6M184.70 713.2V751.3M181.40 713.2h6.6M181.40 751.3h6.6M190.94 715.3V754.5M187.64 715.3h6.6M187.64 754.5h6.6M197.19 716.6V762.4M193.89 716.6h6.6M193.89 762.4h6.6M203.43 715.3V758.4M200.13 715.3h6.6M200.13 758.4h6.6M209.67 729.9V772.4M206.37 729.9h6.6M206.37 772.4h6.6M215.92 717.1V757.5M212.62 717.1h6.6M212.62 757.5h6.6M222.16 684.6V725.5M218.86 684.6h6.6M218.86 725.5h6.6M228.41 696.9V742.2M225.11 696.9h6.6M225.11 742.2h6.6M234.65 712.7V755.4M231.35 712.7h6.6M231.35 755.4h6.6M240.90 702.5V746.1M237.60 702.5h6.6M237.60 746.1h6.6M247.14 660.5V713.6M243.84 660.5h6.6M243.84 713.6h6.6M253.38 703.4V735.2M250.08 703.4h6.6M250.08 735.2h6.6M259.63 695.1V729.9M256.33 695.1h6.6M256.33 729.9h6.6M265.87 697.8V731.1M262.57 697.8h6.6M262.57 731.1h6.6M272.12 703.0V747.3M268.82 703.0h6.6M268.82 747.3h6.6M278.36 686.0V727.1M275.06 686.0h6.6M275.06 727.1h6.6M284.61 729.7V766.3M281.31 729.7h6.6M281.31 766.3h6.6M290.85 726.4V762.2M287.55 726.4h6.6M287.55 762.2h6.6M297.09 723.2V761.5M293.79 723.2h6.6M293.79 761.5h6.6M303.34 709.5V746.4M300.04 709.5h6.6M300.04 746.4h6.6M309.58 720.2V758.9M306.28 720.2h6.6M306.28 758.9h6.6M315.83 723.6V761.0M312.53 723.6h6.6M312.53 761.0h6.6M322.07 717.4V752.7M318.77 717.4h6.6M318.77 752.7h6.6M328.32 723.6V761.0M325.02 723.6h6.6M325.02 761.0h6.6M334.56 727.3V763.6M331.26 727.3h6.6M331.26 763.6h6.6M340.80 735.9V768.9M337.50 735.9h6.6M337.50 768.9h6.6M347.05 727.1V761.0M343.75 727.1h6.6M343.75 761.0h6.6M353.29 701.8V744.8M349.99 701.8h6.6M349.99 744.8h6.6M359.54 744.3V777.3M356.24 744.3h6.6M356.24 777.3h6.6M365.78 722.0V757.1M362.48 722.0h6.6M362.48 757.1h6.6M372.03 733.8V765.4M368.73 733.8h6.6M368.73 765.4h6.6M378.27 726.2V768.6M374.97 726.2h6.6M374.97 768.6h6.6M384.51 727.3V767.1M381.21 727.3h6.6M381.21 767.1h6.6M390.76 751.7V791.4M387.46 751.7h6.6M387.46 791.4h6.6M397.00 749.6V785.9M393.70 749.6h6.6M393.70 785.9h6.6M403.25 746.1V779.4M399.95 746.1h6.6M399.95 779.4h6.6M409.49 715.7V768.4M406.19 715.7h6.6M406.19 768.4h6.6M415.74 742.2V778.0M412.44 742.2h6.6M412.44 778.0h6.6M421.98 728.5V774.2M418.68 728.5h6.6M418.68 774.2h6.6M428.22 745.2V780.3M424.92 745.2h6.6M424.92 780.3h6.6M434.47 700.0V754.3M431.17 700.0h6.6M431.17 754.3h6.6M440.71 727.3V768.0M437.41 727.3h6.6M437.41 768.0h6.6M446.96 719.7V758.7M443.66 719.7h6.6M443.66 758.7h6.6M453.20 714.8V750.1M449.90 714.8h6.6M449.90 750.1h6.6M459.45 724.6V759.2M456.15 724.6h6.6M456.15 759.2h6.6M465.69 724.6V759.2M462.39 724.6h6.6M462.39 759.2h6.6M471.93 702.8V741.0M468.63 702.8h6.6M468.63 741.0h6.6M478.18 689.5V732.0M474.88 689.5h6.6M474.88 732.0h6.6M484.42 714.8V749.9M481.12 714.8h6.6M481.12 749.9h6.6M490.67 706.0V742.9M487.37 706.0h6.6M487.37 742.9h6.6M496.91 712.7V746.4M493.61 712.7h6.6M493.61 746.4h6.6M503.16 710.4V747.0M499.86 710.4h6.6M499.86 747.0h6.6M509.40 691.1V724.6M506.10 691.1h6.6M506.10 724.6h6.6" stroke="#cc4a46" stroke-width="1.35" fill="none"/>
<g fill="#e8300e"><circle cx="78.54" cy="766.6" r="3.3"/><circle cx="84.79" cy="737.6" r="3.3"/><circle cx="91.03" cy="768.9" r="3.3"/><circle cx="97.28" cy="766.6" r="3.3"/><circle cx="103.52" cy="766.8" r="3.3"/><circle cx="109.77" cy="756.3" r="3.3"/><circle cx="116.01" cy="762.8" r="3.3"/><circle cx="122.25" cy="749.2" r="3.3"/><circle cx="128.50" cy="775.9" r="3.3"/><circle cx="134.74" cy="756.6" r="3.3"/><circle cx="140.99" cy="779.1" r="3.3"/><circle cx="147.23" cy="759.8" r="3.3"/><circle cx="153.48" cy="771.9" r="3.3"/><circle cx="159.72" cy="751.7" r="3.3"/><circle cx="165.96" cy="747.0" r="3.3"/><circle cx="172.21" cy="746.4" r="3.3"/><circle cx="178.45" cy="761.5" r="3.3"/><circle cx="184.70" cy="732.4" r="3.3"/><circle cx="190.94" cy="735.0" r="3.3"/><circle cx="197.19" cy="739.6" r="3.3"/><circle cx="203.43" cy="736.8" r="3.3"/><circle cx="209.67" cy="751.3" r="3.3"/><circle cx="215.92" cy="736.8" r="3.3"/><circle cx="222.16" cy="705.3" r="3.3"/><circle cx="228.41" cy="719.7" r="3.3"/><circle cx="234.65" cy="733.8" r="3.3"/><circle cx="240.90" cy="724.6" r="3.3"/><circle cx="247.14" cy="687.2" r="3.3"/><circle cx="253.38" cy="719.7" r="3.3"/><circle cx="259.63" cy="712.2" r="3.3"/><circle cx="265.87" cy="714.8" r="3.3"/><circle cx="272.12" cy="725.3" r="3.3"/><circle cx="278.36" cy="706.5" r="3.3"/><circle cx="284.61" cy="747.8" r="3.3"/><circle cx="290.85" cy="744.3" r="3.3"/><circle cx="297.09" cy="742.2" r="3.3"/><circle cx="303.34" cy="727.6" r="3.3"/><circle cx="309.58" cy="739.4" r="3.3"/><circle cx="315.83" cy="742.2" r="3.3"/><circle cx="322.07" cy="735.2" r="3.3"/><circle cx="328.32" cy="742.0" r="3.3"/><circle cx="334.56" cy="745.5" r="3.3"/><circle cx="340.80" cy="752.2" r="3.3"/><circle cx="347.05" cy="744.0" r="3.3"/><circle cx="353.29" cy="723.2" r="3.3"/><circle cx="359.54" cy="761.0" r="3.3"/><circle cx="365.78" cy="739.6" r="3.3"/><circle cx="372.03" cy="749.1" r="3.3"/><circle cx="378.27" cy="747.3" r="3.3"/><circle cx="384.51" cy="747.3" r="3.3"/><circle cx="390.76" cy="771.5" r="3.3"/><circle cx="397.00" cy="767.5" r="3.3"/><circle cx="403.25" cy="762.8" r="3.3"/><circle cx="409.49" cy="741.7" r="3.3"/><circle cx="415.74" cy="760.5" r="3.3"/><circle cx="421.98" cy="751.3" r="3.3"/><circle cx="428.22" cy="762.8" r="3.3"/><circle cx="434.47" cy="727.1" r="3.3"/><circle cx="440.71" cy="747.8" r="3.3"/><circle cx="446.96" cy="739.4" r="3.3"/><circle cx="453.20" cy="732.0" r="3.3"/><circle cx="459.45" cy="741.7" r="3.3"/><circle cx="465.69" cy="741.7" r="3.3"/><circle cx="471.93" cy="722.4" r="3.3"/><circle cx="478.18" cy="711.3" r="3.3"/><circle cx="484.42" cy="732.4" r="3.3"/><circle cx="490.67" cy="724.6" r="3.3"/><circle cx="496.91" cy="729.4" r="3.3"/><circle cx="503.16" cy="728.2" r="3.3"/><circle cx="509.40" cy="707.8" r="3.3"/></g>
<path d="M72.30 760.10 L75.05 760.11 L77.80 760.12 L80.55 760.13 L83.30 760.14 L86.05 760.15 L88.79 760.16 L91.54 760.16 L94.29 760.17 L97.04 760.17 L99.79 760.18 L102.54 760.18 L105.29 760.19 L108.04 760.19 L110.79 760.19 L113.54 760.19 L116.28 760.20 L119.03 760.20 L121.78 760.20 L124.53 760.20 L127.28 760.20 L130.03 760.20 L132.78 760.20 L135.53 760.20 L138.28 760.20 L141.03 760.19 L143.78 760.13 L146.52 760.00 L149.27 759.81 L152.02 759.59 L154.77 759.35 L157.52 759.09 L160.27 758.82 L163.02 758.48 L165.77 758.08 L168.52 757.61 L171.27 757.10 L174.02 756.53 L176.76 755.93 L179.51 755.24 L182.26 754.42 L185.01 753.49 L187.76 752.48 L190.51 751.43 L193.26 750.34 L196.01 749.26 L198.76 748.09 L201.51 746.82 L204.25 745.50 L207.00 744.18 L209.75 742.90 L212.50 741.72 L215.25 740.64 L218.00 739.55 L220.75 738.48 L223.50 737.46 L226.25 736.53 L229.00 735.73 L231.75 735.10 L234.49 734.62 L237.24 734.16 L239.99 733.75 L242.74 733.39 L245.49 733.10 L248.24 732.89 L250.99 732.80 L253.74 732.75 L256.49 732.71 L259.24 732.67 L261.98 732.63 L264.73 732.60 L267.48 732.57 L270.23 732.54 L272.98 732.51 L275.73 732.49 L278.48 732.47 L281.23 732.45 L283.98 732.44 L286.73 732.43 L289.48 732.42 L292.22 732.41 L294.97 732.40 L297.72 732.40 L300.47 732.40 L303.22 732.40 L305.97 732.40 L308.72 732.40 L311.47 732.40 L314.22 732.40 L316.97 732.40 L319.72 732.40 L322.46 732.40 L325.21 732.40 L327.96 732.40 L330.71 732.40 L333.46 732.40 L336.21 732.40 L338.96 732.40 L341.71 732.40 L344.46 732.40 L347.21 732.40 L349.95 732.41 L352.70 732.41 L355.45 732.41 L358.20 732.41 L360.95 732.41 L363.70 732.41 L366.45 732.41 L369.20 732.41 L371.95 732.42 L374.70 732.42 L377.45 732.42 L380.19 732.42 L382.94 732.42 L385.69 732.43 L388.44 732.43 L391.19 732.43 L393.94 732.44 L396.69 732.44 L399.44 732.44 L402.19 732.45 L404.94 732.45 L407.68 732.45 L410.43 732.46 L413.18 732.46 L415.93 732.47 L418.68 732.47 L421.43 732.48 L424.18 732.48 L426.93 732.49 L429.68 732.49 L432.43 732.50 L435.18 732.51 L437.92 732.51 L440.67 732.52 L443.42 732.53 L446.17 732.54 L448.92 732.54 L451.67 732.55 L454.42 732.56 L457.17 732.57 L459.92 732.58 L462.67 732.59 L465.42 732.60 L468.16 732.61 L470.91 732.62 L473.66 732.63 L476.41 732.64 L479.16 732.65 L481.91 732.66 L484.66 732.67 L487.41 732.69 L490.16 732.70 L492.91 732.71 L495.65 732.73 L498.40 732.74 L501.15 732.75 L503.90 732.77 L506.65 732.78 L509.40 732.80" stroke="#1552e2" stroke-width="3.4" fill="none" stroke-linejoin="round"/>
</svg>
</body></html>
